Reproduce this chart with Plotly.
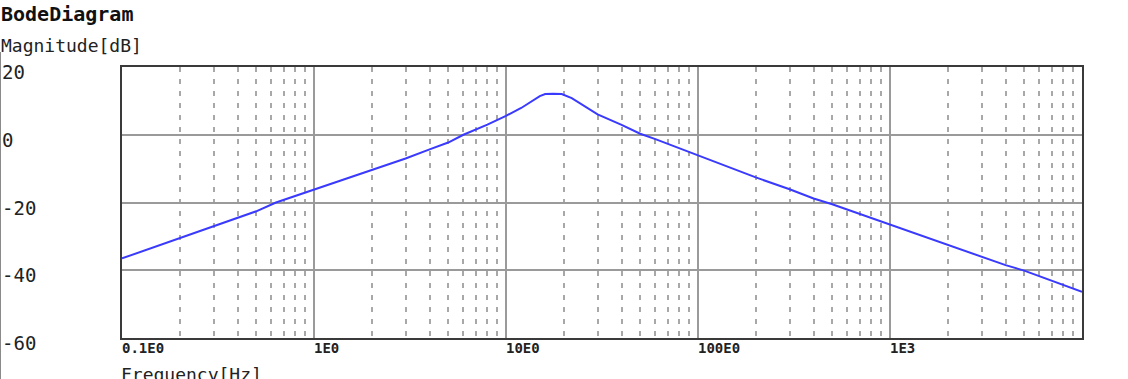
import numpy as np
import plotly.graph_objects as go

# ---- data ----
freq_hz = [0.1, 0.2, 0.3, 0.4, 0.5, 0.634, 1, 2, 3, 4, 5, 6, 7, 8, 10, 12, 15,
           16, 17.6, 19.5, 22, 30, 40, 50, 60, 80, 100, 200, 300, 400, 500,
           1000, 2000, 3000, 4000, 5000, 10000]
magnitude_db = [-36.5, -30.6, -27.1, -24.5, -22.6, -20.0, -16.2, -10.6, -7.0,
                -4.3, -2.3, 0.0, 1.5, 3.0, 5.6, 7.9, 11.4, 12.0, 12.1, 12.0,
                10.8, 6.0, 2.9, 0.3, -1.3, -4.0, -6.3, -12.6, -16.1, -18.8,
                -20.5, -26.5, -32.4, -35.8, -38.5, -40.1, -46.4]

x_tick_vals = [0.1, 1, 10, 100, 1000]
x_tick_text = ["0.1E0", "1E0", "10E0", "100E0", "1E3"]
y_tick_vals = [20, 0, -20, -40, -60]
y_tick_text = ["20", "0", "-20", "-40", "-60"]

title_text = "BodeDiagram"
y_title = "Magnitude[dB]"
x_title = "Frequency[Hz]"

# ---- layout constants (pixels) ----
W, H = 1128, 379
L, R, T, B = 122, 46, 67, 41
PW, PH = W - L - R, H - T - B
FONT = "DejaVu Sans Mono"


def px_x(p):
    return (p - L) / PW


def px_y(p):
    return (H - B - p) / PH


fig = go.Figure()
fig.add_trace(go.Scatter(x=freq_hz, y=magnitude_db, mode="lines",
                         line=dict(color="#3a3aff", width=2),
                         hoverinfo="skip", showlegend=False))

fig.update_xaxes(type="log", range=[-1, 4], dtick=1,
                 showgrid=True, gridcolor="#9a9a9a", gridwidth=2,
                 minor=dict(dtick="D1", showgrid=True, gridcolor="#a8a8a8",
                            gridwidth=2, griddash="5px,7px", ticks=""),
                 showticklabels=False, ticks="", zeroline=False,
                 showline=True, mirror=True, linecolor="#3a3a3a", linewidth=2)
fig.update_yaxes(range=[-60, 20], dtick=20, tick0=0,
                 showgrid=True, gridcolor="#9a9a9a", gridwidth=2,
                 showticklabels=False, ticks="", zeroline=False,
                 showline=True, mirror=True, linecolor="#3a3a3a", linewidth=2)

annotations = []
for v, t in zip(x_tick_vals, x_tick_text):
    annotations.append(dict(x=np.log10(v), xref="x", y=px_y(348), yref="paper",
                            text=f"<b>{t}</b>", showarrow=False,
                            xanchor="left", yanchor="middle", xshift=-2,
                            font=dict(family=FONT, size=14, color="#222")))
for v, t in zip(y_tick_vals, y_tick_text):
    annotations.append(dict(x=px_x(0), xref="paper", y=v, yref="y",
                            text=t, showarrow=False, xanchor="left",
                            yanchor="middle", yshift=-5,
                            font=dict(family=FONT, size=19, color="#222")))
annotations.append(dict(x=px_x(-1), xref="paper", y=px_y(14), yref="paper",
                        text=f"<b>{title_text}</b>", showarrow=False,
                        xanchor="left", yanchor="middle",
                        font=dict(family=FONT, size=20, color="#111")))
annotations.append(dict(x=px_x(-1), xref="paper", y=px_y(45), yref="paper",
                        text=y_title, showarrow=False,
                        xanchor="left", yanchor="middle",
                        font=dict(family=FONT, size=18, color="#222")))
annotations.append(dict(x=px_x(119), xref="paper", y=px_y(362), yref="paper",
                        text=x_title, showarrow=False,
                        xanchor="left", yanchor="top",
                        font=dict(family=FONT, size=18, color="#222")))

fig.update_layout(
    width=W, height=H,
    margin=dict(l=L, r=R, t=T, b=B, pad=0),
    paper_bgcolor="white", plot_bgcolor="white",
    annotations=annotations,
    shapes=[dict(type="line", xref="paper", yref="paper",
                 x0=px_x(0.5), x1=px_x(0.5), y0=px_y(52), y1=px_y(379),
                 line=dict(color="#8a8a8a", width=1))],
)

fig.write_html("out.html", config={"displayModeBar": False})
